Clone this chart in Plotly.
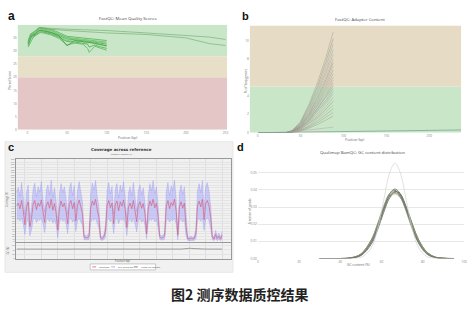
import plotly.graph_objects as go

W, H = 474, 312
def px(x): return x / W
def py(y): return 1 - y / H

# ---------------- Panel a: FastQC mean quality scores ----------------
A_POS = [1, 4, 7, 10, 13, 16, 20, 30, 40, 50, 60, 70, 76, 78, 85, 92, 100]
A_SCORES = [
    [34.0, 36.5, 37.0, 37.5, 38.5, 38.9, 38.8, 38.2, 37.0, 35.6, 35.3, 35.0, 34.8, 34.7, 34.4, 34.2, 34.0],
    [33.5, 36.0, 36.5, 37.0, 38.0, 38.5, 38.4, 37.8, 36.5, 35.2, 34.8, 34.5, 34.3, 34.1, 33.9, 33.6, 33.4],
    [33.0, 35.5, 36.2, 36.6, 37.5, 38.0, 37.9, 37.2, 36.0, 34.6, 34.3, 34.0, 33.6, 33.8, 33.4, 33.0, 32.6],
    [32.5, 35.0, 35.8, 36.2, 37.2, 37.7, 37.5, 36.8, 35.6, 34.0, 33.8, 33.5, 33.0, 33.2, 32.8, 32.3, 31.8],
    [32.0, 34.5, 35.5, 36.0, 36.8, 37.3, 37.2, 36.5, 35.2, 33.6, 33.4, 33.0, 32.6, 31.5, 32.3, 31.6, 31.0],
    [31.5, 33.5, 35.0, 35.8, 36.5, 37.0, 36.9, 36.1, 34.8, 32.3, 33.0, 32.6, 31.0, 29.5, 31.8, 31.0, 30.3],
    [32.8, 35.2, 36.0, 36.4, 37.4, 37.9, 37.7, 37.0, 35.8, 32.0, 34.0, 33.7, 33.3, 33.4, 33.0, 32.5, 32.0],
    [33.2, 35.8, 36.4, 36.8, 37.8, 38.2, 38.1, 37.5, 36.3, 34.9, 34.6, 34.2, 34.0, 34.0, 33.7, 33.3, 33.0],
]
A_LONG_POS = [1, 5, 15, 20, 50, 100, 150, 200, 230, 250]
A_LONG_SCORES = [
    [33.5, 36.5, 39.0, 38.8, 38.3, 37.8, 36.9, 35.9, 35.3, 34.4],
    [33.0, 36.0, 38.8, 38.5, 37.8, 36.9, 36.3, 35.0, 32.8, 32.1],
]
A_THRESH = [0, 20, 28, 40]          # fail / warn / pass bands
A_XTICKS = [0, 50, 100, 150, 200, 250]
A_YTICKS = [0, 5, 10, 15, 20, 25, 30, 35]

# ---------------- Panel b: FastQC adapter content ----------------
B_POS = [1, 20, 33, 40, 50, 60, 70, 80, 88]
B_CONTENT = [
    [0, 0, 0, 0.2, 1.2, 3.1, 5.5, 8.3, 10.9],
    [0, 0, 0, 0.2, 1.1, 2.9, 5.1, 7.8, 10.2],
    [0, 0, 0, 0.2, 1.1, 2.7, 4.8, 7.3, 9.6],
    [0, 0, 0, 0.2, 1.0, 2.5, 4.5, 6.8, 9.0],
    [0, 0, 0, 0.2, 0.9, 2.4, 4.3, 6.5, 8.5],
    [0, 0, 0, 0.2, 0.9, 2.2, 4.0, 6.1, 8.0],
    [0, 0, 0, 0.2, 0.8, 2.1, 3.8, 5.8, 7.6],
    [0, 0, 0, 0.1, 0.8, 2.0, 3.6, 5.5, 7.2],
    [0, 0, 0, 0.1, 0.7, 1.9, 3.4, 5.2, 6.8],
    [0, 0, 0, 0.1, 0.7, 1.8, 3.2, 4.9, 6.4],
    [0, 0, 0, 0.1, 0.7, 1.7, 3.0, 4.6, 6.0],
    [0, 0, 0, 0.1, 0.6, 1.6, 2.9, 4.3, 5.7],
    [0, 0, 0, 0.1, 0.6, 1.5, 2.7, 4.1, 5.4],
    [0, 0, 0, 0.1, 0.6, 1.4, 2.6, 3.9, 5.1],
    [0, 0, 0, 0.1, 0.5, 1.3, 2.4, 3.6, 4.8],
    [0, 0, 0, 0.1, 0.5, 1.3, 2.3, 3.4, 4.5],
    [0, 0, 0, 0.1, 0.5, 1.2, 2.1, 3.2, 4.2],
    [0, 0, 0, 0.1, 0.4, 1.1, 1.9, 2.9, 3.8],
    [0, 0, 0, 0.1, 0.4, 1.0, 1.7, 2.6, 3.4],
    [0, 0, 0, 0.1, 0.3, 0.8, 1.5, 2.3, 3.0],
    [0, 0, 0, 0.1, 0.3, 0.7, 1.3, 2.0, 2.6],
    [0, 0, 0, 0.0, 0.2, 0.6, 1.1, 1.7, 2.2],
    [0, 0, 0, 0.0, 0.2, 0.5, 0.9, 1.4, 1.8],
    [0, 0, 0.05, 0.1, 0.2, 0.3, 0.4, 0.5, 0.6],
]
B_LONG_POS = [1, 50, 100, 150, 200, 237]
B_LONG_CONTENT = [0, 0.05, 0.1, 0.15, 0.2, 0.3]
B_THRESH = [0, 5, 12]
B_XTICKS = [0, 50, 100, 150, 200]
B_YTICKS = [0, 2, 4, 6, 8, 10]

# ---------------- Panel c: Qualimap coverage across reference ----------------
C_MEAN = [140, 150, 128, 160, 120, 66, 135, 155, 58, 90,
          145, 160, 125, 150, 138, 162, 118, 75, 140, 155,
          130, 165, 122, 148, 110, 45, 130, 158, 135, 150,
          120, 70, 145, 160, 128, 152, 80, 140, 162, 135,
          110, 18, 14, 16, 20, 130, 158, 142, 165, 125,
          95, 15, 12, 18, 40, 140, 160, 132, 150, 70,
          145, 158, 120, 155, 138, 162, 125, 55, 135, 150,
          128, 160, 118, 78, 142, 155, 130, 148, 110, 30,
          125, 158, 140, 165, 132, 150, 100, 20, 14, 16,
          22, 138, 160, 128, 152, 140, 165, 120, 25, 135,
          155, 130, 150, 60, 12, 10, 14, 11, 13, 30,
          140, 158, 135, 165, 85, 150, 160, 140, 95, 18,
          10, 28, 12, 22, 10, 26]
C_STD = [55, 62, 48, 70, 52, 38, 58, 66, 35, 45,
         60, 68, 50, 64, 55, 72, 48, 40, 58, 66,
         52, 75, 50, 62, 45, 30, 55, 68, 56, 64,
         50, 38, 60, 70, 52, 66, 40, 58, 72, 55,
         45, 10, 8, 9, 12, 55, 70, 60, 74, 52,
         42, 8, 7, 10, 25, 58, 70, 54, 65, 38,
         60, 68, 50, 66, 56, 72, 52, 32, 55, 64,
         52, 70, 48, 40, 58, 66, 54, 62, 45, 20,
         52, 68, 58, 74, 55, 64, 44, 10, 8, 9,
         12, 58, 70, 52, 66, 58, 75, 50, 18, 56,
         66, 54, 64, 35, 7, 6, 8, 6, 8, 18,
         58, 68, 56, 74, 42, 64, 70, 58, 45, 10,
         6, 16, 8, 12, 6, 15]
C_POS = list(range(len(C_MEAN)))
C_GC_POS = [0, 5, 10, 15, 20, 25, 30, 35, 40, 45, 50, 55, 60, 65, 70, 75, 80, 85,
            90, 95, 100, 105, 110, 115, 120, 125]
C_GC = [43.0, 42.5, 43.2, 42.8, 43.0, 43.5, 42.7, 43.1, 42.9, 43.3, 43.0, 42.6, 43.4,
        42.8, 43.1, 42.9, 43.2, 43.0, 42.7, 43.4, 43.0, 46.5, 43.5, 42.9, 43.1, 42.8]

# ---------------- Panel d: Qualimap GC content distribution ----------------
D_GC = [30, 40, 45, 50, 55, 58, 61, 64, 66.5, 69, 72, 75, 78, 82, 86, 90, 95]
D_FRAC = [
    [0, 0.0000, 0.0003, 0.0022, 0.0097, 0.0186, 0.0292, 0.0379, 0.0405, 0.0379, 0.0292, 0.0186, 0.0097, 0.0030, 0.0006, 0.0001, 0],
    [0, 0.0000, 0.0004, 0.0026, 0.0108, 0.0199, 0.0304, 0.0381, 0.0398, 0.0362, 0.0272, 0.0168, 0.0086, 0.0025, 0.0005, 0.0001, 0],
    [0, 0.0000, 0.0002, 0.0017, 0.0083, 0.0165, 0.0268, 0.0356, 0.0390, 0.0377, 0.0300, 0.0199, 0.0108, 0.0036, 0.0008, 0.0001, 0],
    [0, 0.0000, 0.0004, 0.0027, 0.0108, 0.0194, 0.0290, 0.0363, 0.0385, 0.0363, 0.0290, 0.0194, 0.0108, 0.0038, 0.0009, 0.0002, 0],
    [0, 0.0000, 0.0003, 0.0024, 0.0100, 0.0185, 0.0280, 0.0355, 0.0378, 0.0356, 0.0282, 0.0188, 0.0102, 0.0035, 0.0008, 0.0001, 0],
    [0, 0.0000, 0.0003, 0.0020, 0.0092, 0.0179, 0.0285, 0.0370, 0.0395, 0.0370, 0.0285, 0.0179, 0.0092, 0.0028, 0.0006, 0.0001, 0],
]
D_REF = [0, 0, 0, 0.0006, 0.0062, 0.0168, 0.0337, 0.0502, 0.0556, 0.0502, 0.0337, 0.0168, 0.0062, 0.0011, 0.0001, 0, 0]
D_XTICKS = [0, 20, 40, 60, 80, 100]
D_YTICKS = [0, 0.01, 0.02, 0.03, 0.04, 0.05]

CAPTION = "图2 测序数据质控结果"

# ====================================================================
fig = go.Figure()

A_COLORS = ['#5cb85c', '#6cc06c', '#4cae4c', '#78c878', '#55b255', '#66bb6a', '#4a9e4a', '#7cc87c']
for i, s in enumerate(A_SCORES):
    fig.add_trace(go.Scatter(x=A_POS, y=s, mode='lines', xaxis='x', yaxis='y',
                             line=dict(color=A_COLORS[i % len(A_COLORS)], width=0.9),
                             showlegend=False, hoverinfo='skip'))
for s in A_LONG_SCORES:
    fig.add_trace(go.Scatter(x=A_LONG_POS, y=s, mode='lines', xaxis='x', yaxis='y',
                             line=dict(color='#6aa86a', width=0.6),
                             showlegend=False, hoverinfo='skip'))

B_COLORS = ['#9e9e9e', '#a68b6d', '#88b088', '#8aa6c8', '#c89a9a', '#b4a878',
            '#8f8f8f', '#9bb59b', '#b08f7a', '#93a0b8', '#a0a070', '#c0a0b0']
for i, s in enumerate(B_CONTENT):
    fig.add_trace(go.Scatter(x=B_POS, y=s, mode='lines', xaxis='x2', yaxis='y2',
                             line=dict(color=B_COLORS[i % len(B_COLORS)], width=0.6),
                             opacity=0.8, showlegend=False, hoverinfo='skip'))
fig.add_trace(go.Scatter(x=B_LONG_POS, y=B_LONG_CONTENT, mode='lines', xaxis='x2', yaxis='y2',
                         line=dict(color='#6f9f8f', width=0.7), showlegend=False, hoverinfo='skip'))

c_up = [m + s for m, s in zip(C_MEAN, C_STD)]
c_lo = [max(m - s, 0) for m, s in zip(C_MEAN, C_STD)]
fig.add_trace(go.Scatter(x=C_POS, y=c_up, mode='lines', xaxis='x3', yaxis='y3',
                         line=dict(color='rgba(140,140,240,0.7)', width=0.4),
                         showlegend=False, hoverinfo='skip'))
fig.add_trace(go.Scatter(x=C_POS, y=c_lo, mode='lines', xaxis='x3', yaxis='y3', fill='tonexty',
                         fillcolor='rgba(170,170,250,0.55)',
                         line=dict(color='rgba(140,140,240,0.7)', width=0.4),
                         showlegend=False, hoverinfo='skip'))
fig.add_trace(go.Scatter(x=C_POS, y=C_MEAN, mode='lines', xaxis='x3', yaxis='y3',
                         line=dict(color='#d9607a', width=0.7), showlegend=False, hoverinfo='skip'))
fig.add_trace(go.Scatter(x=C_GC_POS, y=C_GC, mode='lines', xaxis='x4', yaxis='y4',
                         line=dict(color='#666666', width=0.6), showlegend=False, hoverinfo='skip'))

D_COLORS = ['#6f7f6a', '#8a9a70', '#5f6f5f', '#9a8a6a', '#7f9a7f', '#707070']
for i, s in enumerate(D_FRAC):
    fig.add_trace(go.Scatter(x=D_GC, y=s, mode='lines', xaxis='x5', yaxis='y5',
                             line=dict(color=D_COLORS[i], width=0.9, shape='spline'),
                             showlegend=False, hoverinfo='skip'))
fig.add_trace(go.Scatter(x=D_GC, y=D_REF, mode='lines', xaxis='x5', yaxis='y5',
                         line=dict(color='#d4d4d4', width=0.7, shape='spline'),
                         showlegend=False, hoverinfo='skip'))

TF = dict(size=3.2, color='#888888', family='Open Sans')
base_ax = dict(showgrid=False, zeroline=False, showline=False, ticks='', tickfont=TF)

layout = dict(
    width=W, height=H, margin=dict(l=0, r=0, t=0, b=0),
    paper_bgcolor='white', plot_bgcolor='white', showlegend=False,
    xaxis=dict(base_ax, domain=[px(17), px(228)], range=[-12, 252], anchor='y',
               tickvals=A_XTICKS),
    yaxis=dict(base_ax, domain=[py(130), py(24)], range=[0, 40], anchor='x',
               tickvals=A_YTICKS),
    xaxis2=dict(base_ax, domain=[px(251), px(464)], range=[-9, 237], anchor='y2',
                tickvals=B_XTICKS),
    yaxis2=dict(base_ax, domain=[py(133), py(25)], range=[0, 11.6], anchor='x2',
                tickvals=B_YTICKS),
    xaxis3=dict(base_ax, domain=[px(15), px(232)], range=[-0.5, 130.4], anchor='y3',
                showgrid=True, gridcolor='#dddddd', gridwidth=0.5, tick0=5, dtick=10,
                showticklabels=False, showline=True, mirror=True, linecolor='#999999', linewidth=0.6),
    yaxis3=dict(base_ax, domain=[py(243), py(160)], range=[0, 320], anchor='x3',
                showgrid=True, gridcolor='#e4e4e4', gridwidth=0.5, dtick=10,
                tickfont=dict(size=2.3, color='#888888'),
                showline=True, mirror=True, linecolor='#999999', linewidth=0.6),
    xaxis4=dict(base_ax, domain=[px(15), px(232)], range=[-0.5, 130.4], anchor='y4',
                showgrid=True, gridcolor='#dddddd', gridwidth=0.5, tick0=5, dtick=10,
                showticklabels=False,
                showline=True, mirror=True, linecolor='#999999', linewidth=0.6),
    yaxis4=dict(base_ax, domain=[py(260), py(244.5)], range=[0, 70], anchor='x4',
                tickvals=[0, 20, 40, 60], tickfont=dict(size=2.3, color='#888888'),
                showgrid=True, gridcolor='#e4e4e4', gridwidth=0.5,
                showline=True, mirror=True, linecolor='#999999', linewidth=0.6),
    xaxis5=dict(base_ax, domain=[px(259), px(467)], range=[0, 100], anchor='y5',
                tickvals=D_XTICKS),
    yaxis5=dict(base_ax, domain=[py(260), py(160)], range=[0, 0.0577], anchor='x5',
                tickvals=D_YTICKS, tickformat='.2f', showgrid=True,
                gridcolor='#e8e8e8', gridwidth=0.6),
)

shapes = []
band_cols_a = ['#e4c6c6', '#e8dfc8', '#cae6c8']
for i in range(3):
    shapes.append(dict(type='rect', xref='x domain', yref='y', x0=0, x1=1,
                       y0=A_THRESH[i], y1=A_THRESH[i + 1], fillcolor=band_cols_a[i],
                       line=dict(width=0), layer='below'))
band_cols_b = ['#cae6c8', '#e6dcc6']
for i in range(2):
    shapes.append(dict(type='rect', xref='x2 domain', yref='y2', x0=0, x1=1,
                       y0=B_THRESH[i], y1=B_THRESH[i + 1], fillcolor=band_cols_b[i],
                       line=dict(width=0), layer='below'))
# panel c grey frame
shapes.append(dict(type='rect', xref='paper', yref='paper', x0=px(4), x1=px(234),
                   y0=py(274), y1=py(142), fillcolor='#f1f1f1',
                   line=dict(color='#dcdcdc', width=0.6), layer='below'))
# panel c legend box
shapes.append(dict(type='rect', xref='paper', yref='paper', x0=px(90), x1=px(156),
                   y0=py(271.5), y1=py(265.5), fillcolor='white',
                   line=dict(color='#999999', width=0.5)))
leg_items = [(92, '#d9607a', 'Coverage'), (111, '#9a9af0', 'Std. deviation'),
             (134, '#666666', 'Mean GC content')]
for x0, col, _ in leg_items:
    shapes.append(dict(type='line', xref='paper', yref='paper', x0=px(x0), x1=px(x0 + 4),
                       y0=py(268.5), y1=py(268.5), line=dict(color=col, width=0.8)))
layout['shapes'] = shapes

ann = []
def T(x, y, s, size, color='#444444', bold=False, angle=0, family='Open Sans',
      xanchor='center'):
    ann.append(dict(xref='paper', yref='paper', x=px(x), y=py(y),
                    text=('<b>%s</b>' % s) if bold else s, showarrow=False,
                    font=dict(size=size, color=color, family=family), textangle=angle,
                    xanchor=xanchor, yanchor='middle'))

# panel labels
T(11, 15, 'a', 12, '#111111', True, family='Liberation Sans')
T(247, 15, 'b', 11, '#111111', True, family='Liberation Sans')
T(10, 147, 'c', 11, '#111111', True, family='Liberation Sans')
T(242, 147, 'd', 11, '#111111', True, family='Liberation Sans')
# titles
T(128, 17, 'FastQC: Mean Quality Scores', 4.3, '#444444')
T(362, 18, 'FastQC: Adapter Content', 4.3, '#444444')
T(122, 150, 'Coverage across reference', 4.0, '#333333', True, family='DejaVu Sans')
T(122, 154.5, 'Sample: sample_01', 2.4, '#666666')
T(365, 152, 'Qualimap BamQC: GC content distribution', 4.3, '#444444')
# axis titles
T(128, 137.5, 'Position (bp)', 3.3, '#666666')
T(8.5, 80, 'Phred Score', 3.3, '#666666', angle=-90)
T(357, 139.5, 'Position (bp)', 3.3, '#666666')
T(246, 80, '% of Sequences', 3.3, '#666666', angle=-90)
T(6, 200, 'Coverage (X)', 2.6, '#666666', angle=-90)
T(7, 252, 'GC (%)', 2.6, '#666666', angle=-90)
T(123, 263, 'Position (bp)', 2.6, '#555555')
T(361, 266.5, 'GC content (%)', 3.3, '#666666')
T(251.5, 212, 'Fraction of reads', 3.3, '#666666', angle=-90)
# legend text of panel c
for x0, _, s in leg_items:
    T(x0 + 5, 268.5, s, 2.4, '#444444', xanchor='left')
# caption
T(241, 296, CAPTION, 14, '#222222', True, family='Noto Sans CJK SC')
layout['annotations'] = ann

fig.update_layout(**layout)
fig.write_html("out.html")
